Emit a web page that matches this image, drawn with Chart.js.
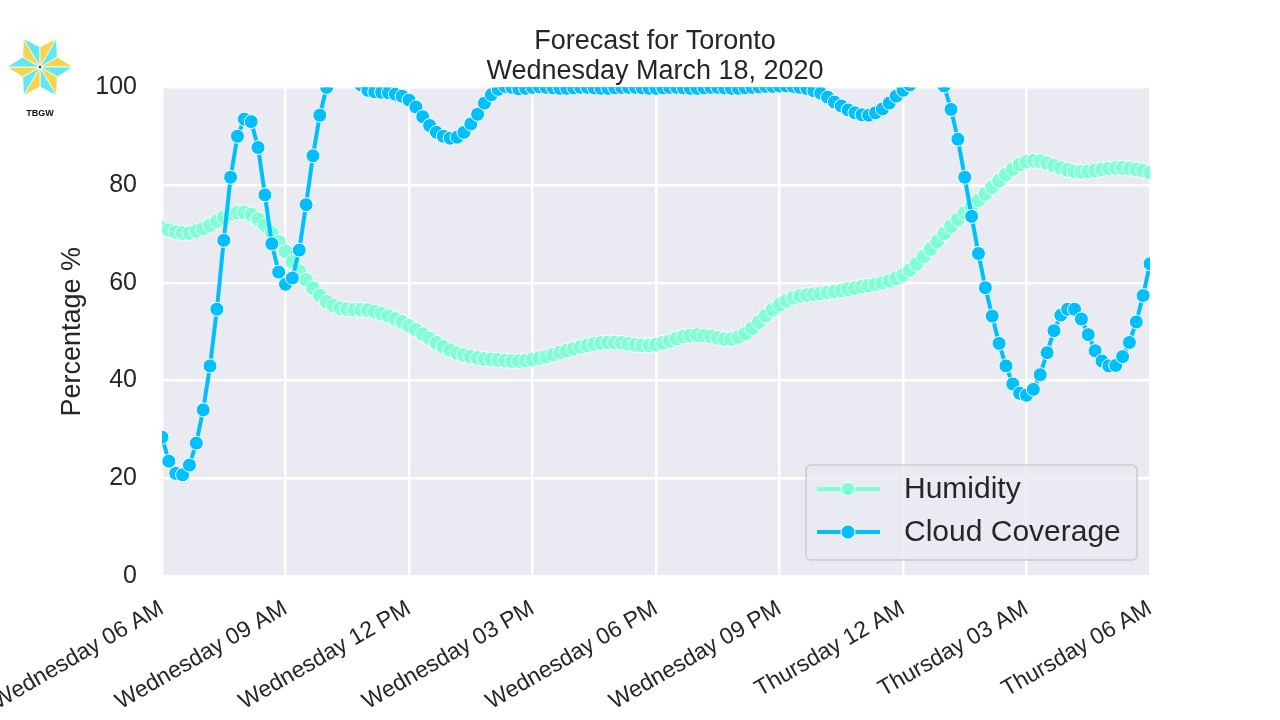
<!DOCTYPE html>
<html>
<head>
<meta charset="utf-8">
<script src="https://cdn.jsdelivr.net/npm/chart.js@4.4.1/dist/chart.umd.min.js"></script>
<style>
  html, body { margin: 0; padding: 0; background: #ffffff; }
  #wrap { width: 1280px; height: 720px; }
</style>
</head>
<body>
<div id="wrap"><canvas id="chart" width="1280" height="720"></canvas></div>
<script>
// 10-minute readings from Wednesday 06 AM to Thursday 06 AM
const stepMinutes = 10;
const tickLabels = ['Wednesday 06 AM', 'Wednesday 09 AM', 'Wednesday 12 PM', 'Wednesday 03 PM',
  'Wednesday 06 PM', 'Wednesday 09 PM', 'Thursday 12 AM', 'Thursday 03 AM', 'Thursday 06 AM'];
const seriesNames = ['Humidity', 'Cloud Coverage'];

const humidity = [
  71.2, 70.8, 70.4, 70.2, 70.2, 70.6, 71.1, 71.8, 72.6, 73.4,
  74.1, 74.4, 74.4, 74.0, 73.0, 71.8, 70.2, 68.4, 66.4, 64.3,
  62.4, 60.6, 58.9, 57.4, 56.1, 55.3, 54.8, 54.6, 54.5, 54.5,
  54.4, 54.1, 53.7, 53.2, 52.6, 52.0, 51.2, 50.4, 49.5, 48.6,
  47.7, 46.9, 46.2, 45.6, 45.2, 44.9, 44.6, 44.4, 44.3, 44.2,
  44.1, 44.0, 44.0, 44.1, 44.3, 44.6, 44.9, 45.3, 45.7, 46.1,
  46.5, 46.9, 47.2, 47.5, 47.7, 47.8, 47.8, 47.7, 47.5, 47.3,
  47.2, 47.2, 47.4, 47.7, 48.1, 48.6, 49.0, 49.2, 49.3, 49.2,
  49.0, 48.7, 48.5, 48.5, 48.9, 49.6, 50.7, 52.0, 53.3, 54.5,
  55.5, 56.3, 56.9, 57.3, 57.5, 57.7, 57.8, 58.0, 58.2, 58.4,
  58.7, 58.9, 59.2, 59.4, 59.7, 60.0, 60.4, 60.9, 61.6, 62.6,
  63.9, 65.4, 66.9, 68.5, 70.1, 71.6, 73.0, 74.3, 75.6, 76.9,
  78.2, 79.6, 80.9, 82.2, 83.3, 84.2, 84.8, 85.0, 84.9, 84.5,
  84.0, 83.5, 83.1, 82.8, 82.7, 82.8, 83.0, 83.2, 83.4, 83.5,
  83.5, 83.4, 83.2, 83.0, 82.6
];

const cloudCoverage = [
  28.4, 23.5, 21.0, 20.7, 22.7, 27.2, 34.0, 43.0, 54.6, 68.7,
  81.6, 90.0, 93.5, 93.0, 87.7, 78.0, 68.0, 62.2, 59.7, 61.0,
  66.7, 76.0, 86.0, 94.3, 100.0, 102.5, 104.0, 104.5, 103.0, 100.5,
  99.4, 99.1, 99.0, 98.9, 98.6, 98.2, 97.4, 96.0, 94.0, 92.2,
  90.8, 90.0, 89.6, 89.8, 90.8, 92.5, 94.5, 96.8, 98.5, 99.6,
  100.2, 100.0, 99.7, 99.8, 100.0, 100.1, 100.0, 99.9, 99.8, 99.8,
  99.9, 100.0, 100.0, 99.9, 99.8, 99.8, 99.9, 100.0, 100.0, 100.0,
  99.9, 99.8, 99.8, 99.9, 100.0, 100.0, 99.9, 99.8, 99.8, 99.9,
  100.0, 100.0, 99.9, 99.8, 99.8, 99.9, 100.0, 100.1, 100.2, 100.2,
  100.3, 100.3, 100.2, 100.0, 99.8, 99.3, 98.8, 98.0, 97.0, 96.2,
  95.4, 94.8, 94.4, 94.3, 94.8, 95.6, 96.8, 98.2, 99.4, 100.5,
  102.0, 103.0, 103.5, 102.5, 100.3, 95.5, 89.4, 81.6, 73.6, 66.0,
  59.0, 53.2, 47.6, 43.0, 39.3, 37.4, 37.0, 38.2, 41.2, 45.7,
  50.2, 53.4, 54.6, 54.6, 52.6, 49.4, 46.1, 44.0, 43.0, 43.1,
  44.9, 47.8, 52.0, 57.4, 63.9
];

const colors = ['#7fffd4', '#00bfff'];
const textColor = '#262626';
const fontFamily = '"Liberation Sans", Arial, Helvetica, sans-serif';

// hours since the first reading
const toPoints = values => values.map((v, i) => ({ x: i * stepMinutes / 60, y: v }));

// seaborn-style grey plot area
const plotBackground = {
  id: 'plotBackground',
  beforeDraw(chart) {
    const { ctx, chartArea: a } = chart;
    ctx.save();
    ctx.fillStyle = '#eaeaf2';
    ctx.fillRect(a.left, a.top, a.right - a.left, a.bottom - a.top);
    ctx.restore();
  }
};

// legend box in the lower right corner of the plot
const boxLegend = {
  id: 'boxLegend',
  afterDraw(chart) {
    const { ctx, chartArea: a } = chart;
    const w = 331, h = 95;
    const x = a.right - 13 - w, y = a.bottom - 16 - h;
    ctx.save();
    ctx.beginPath();
    ctx.roundRect(x, y, w, h, 5);
    ctx.fillStyle = 'rgba(234,234,242,0.8)';
    ctx.fill();
    ctx.lineWidth = 1.5;
    ctx.strokeStyle = '#cccccc';
    ctx.stroke();
    seriesNames.forEach((name, k) => {
      const cy = y + 24 + k * 43;
      ctx.strokeStyle = colors[k];
      ctx.lineWidth = 4;
      ctx.beginPath();
      ctx.moveTo(x + 11, cy);
      ctx.lineTo(x + 74, cy);
      ctx.stroke();
      ctx.beginPath();
      ctx.arc(x + 42, cy, 7, 0, Math.PI * 2);
      ctx.fillStyle = colors[k];
      ctx.fill();
      ctx.lineWidth = 1;
      ctx.strokeStyle = '#ffffff';
      ctx.stroke();
      ctx.fillStyle = textColor;
      ctx.font = '30px ' + fontFamily;
      ctx.textBaseline = 'middle';
      ctx.textAlign = 'left';
      ctx.fillText(name, x + 98, cy + 1);
    });
    ctx.restore();
  }
};

// small star logo with caption, top left
const logo = {
  id: 'logo',
  afterDraw(chart) {
    const ctx = chart.ctx;
    const cx = 40, cy = 67, R = 33, s = 20;
    const rad = d => d * Math.PI / 180;
    ctx.save();
    ctx.lineWidth = 0.8;
    ctx.strokeStyle = '#ffffff';
    for (let k = 0; k < 6; k++) {
      const a = rad(k * 60);
      const tip = [cx + R * Math.cos(a), cy + R * Math.sin(a)];
      const l = [cx + s * Math.cos(a - rad(30)), cy + s * Math.sin(a - rad(30))];
      const r = [cx + s * Math.cos(a + rad(30)), cy + s * Math.sin(a + rad(30))];
      [[l, '#f6d54e'], [r, '#62e8ee']].forEach(([p, c]) => {
        ctx.beginPath();
        ctx.moveTo(cx, cy);
        ctx.lineTo(p[0], p[1]);
        ctx.lineTo(tip[0], tip[1]);
        ctx.closePath();
        ctx.fillStyle = c;
        ctx.fill();
        ctx.stroke();
      });
    }
    ctx.fillStyle = '#333333';
    ctx.beginPath();
    ctx.arc(cx, cy, 1.2, 0, Math.PI * 2);
    ctx.fill();
    ctx.fillStyle = '#111111';
    ctx.font = 'bold 9px ' + fontFamily;
    ctx.textAlign = 'center';
    ctx.textBaseline = 'middle';
    ctx.fillText('TBGW', cx, 114);
    ctx.restore();
  }
};

const ctx = document.getElementById('chart').getContext('2d');
new Chart(ctx, {
  type: 'line',
  data: {
    datasets: [
      {
        label: seriesNames[0],
        data: toPoints(humidity),
        borderColor: colors[0],
        backgroundColor: colors[0],
        borderWidth: 4,
        pointRadius: 7.5,
        pointBorderColor: '#ffffff',
        pointBorderWidth: 1,
        tension: 0,
        clip: 0,
        order: 1
      },
      {
        label: seriesNames[1],
        data: toPoints(cloudCoverage),
        borderColor: colors[1],
        backgroundColor: colors[1],
        borderWidth: 4,
        pointRadius: 7,
        pointBorderColor: '#ffffff',
        pointBorderWidth: 1,
        tension: 0,
        clip: 0,
        order: 0
      }
    ]
  },
  options: {
    responsive: false,
    animation: false,
    layout: { padding: { left: 30, right: 0, top: 0, bottom: 0 } },
    plugins: {
      legend: { display: false },
      tooltip: { enabled: false },
      title: {
        display: true,
        text: ['Forecast for Toronto', 'Wednesday March 18, 2020'],
        color: textColor,
        font: { family: fontFamily, size: 27, weight: 'normal', lineHeight: 1.1 },
        padding: { top: 27, bottom: 1 }
      }
    },
    scales: {
      x: {
        type: 'linear',
        min: 0,
        max: 24,
        border: { display: false },
        grid: { color: '#ffffff', lineWidth: 2.5, drawTicks: false },
        ticks: {
          stepSize: 3,
          autoSkip: false,
          maxRotation: 30,
          minRotation: 30,
          padding: 19,
          color: textColor,
          font: { family: fontFamily, size: 23 },
          callback: v => tickLabels[v / 3]
        },
        afterFit(scale) {
          scale.height = 144;
          scale.paddingLeft = 0;
          scale.paddingRight = 130;
        }
      },
      y: {
        min: 0,
        max: 100,
        border: { display: false },
        grid: { color: '#ffffff', lineWidth: 2.5, drawTicks: false },
        ticks: {
          stepSize: 20,
          padding: 25,
          color: textColor,
          font: { family: fontFamily, size: 25 }
        },
        title: {
          display: true,
          text: 'Percentage %',
          color: textColor,
          font: { family: fontFamily, size: 27 },
          padding: { top: 26, bottom: 0 }
        },
        afterFit(scale) {
          scale.width = 132;
          scale.paddingTop = 0;
          scale.paddingBottom = 0;
        }
      }
    }
  },
  plugins: [plotBackground, boxLegend, logo]
});
</script>
</body>
</html>
